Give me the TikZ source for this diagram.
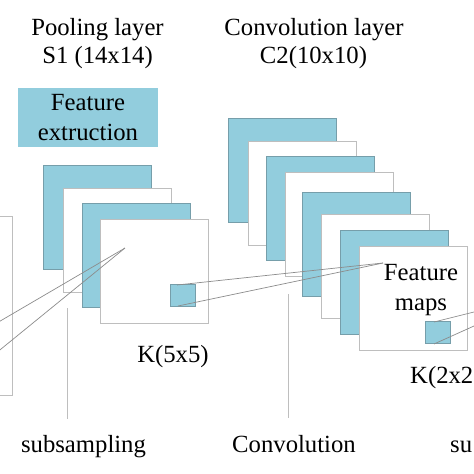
\documentclass[tikz,border=0pt]{standalone}
\usepackage{fontspec}
\setmainfont{Liberation Serif}
\definecolor{fmblue}{RGB}{146,205,221}
\definecolor{fmedge}{RGB}{118,158,170}
\definecolor{whedge}{RGB}{190,190,190}
\definecolor{lngray}{RGB}{140,140,140}
\tikzset{
  lbl/.style={font=\fontsize{24.7}{29.6}\selectfont, inner sep=0pt, anchor=base},
  mapb/.style={draw=fmedge, fill=fmblue, line width=0.9pt, minimum width=108pt, minimum height=104pt, inner sep=0pt, anchor=north west},
  mapw/.style={draw=whedge, fill=white, line width=0.9pt, minimum width=108pt, minimum height=104pt, inner sep=0pt, anchor=north west},
  kern/.style={draw=fmedge, fill=fmblue, line width=0.9pt, minimum width=25pt, minimum height=22pt, inner sep=0pt, anchor=north west},
  conn/.style={draw=lngray, line width=0.7pt},
  vline/.style={draw=whedge, line width=0.9pt}
}
\begin{document}
\begin{tikzpicture}[x=1pt,y=-1pt]
\useasboundingbox (0,0) rectangle (474,474);
\clip (0,0) rectangle (474,474);
\fill[white] (0,0) rectangle (474,474);
% input map (partly outside)
\node[mapw, minimum width=112pt, minimum height=179pt] (inp) at (-100,216) {};
% titles
\node[lbl] (t1a) at (97.5,35) {Pooling layer};
\node[lbl] (t1b) at (97.5,63) {S1 (14x14)};
\node[lbl] (t2a) at (314,35) {Convolution layer};
\node[lbl] (t2b) at (313.5,63) {C2(10x10)};
% feature extraction box
\node[fill=fmblue, minimum width=140pt, minimum height=59pt, inner sep=0pt] (fe) at (88,117.5) {};
\node[lbl] (fe1) at (88,110) {Feature};
\node[lbl] (fe2) at (88,140) {extruction};
% pooling stack
\node[mapb] (p1) at (43,165) {};
\node[mapw] (p2) at (63,188) {};
\node[mapb] (p3) at (82,203) {};
\node[mapw] (p4) at (100,219) {};
\node[kern] (ps) at (170,284) {};
% convolution stack
\node[mapb] (c1) at (228,118) {};
\node[mapw] (c2) at (248,141) {};
\node[mapb] (c3) at (266,156) {};
\node[mapw] (c4) at (285,172) {};
\node[mapb] (c5) at (302,192) {};
\node[mapw] (c6) at (321,214) {};
\node[mapb] (c7) at (340,230) {};
\node[mapw] (c8) at (359,246) {};
\node[kern] (cs) at (425,321) {};
\node[lbl] (fm1) at (421,280) {Feature};
\node[lbl] (fm2) at (421,310) {maps};
% kernel labels
\node[lbl] (k1) at (173,362) {K(5x5)};
\node[lbl, anchor=base west] (k2) at (410,383) {K(2x2};
% bottom labels
\node[lbl] (b1) at (83.5,452) {subsampling};
\node[lbl] (b2) at (294,452) {Convolution};
\node[lbl, anchor=base west] (b3) at (450,452) {su};
% vertical markers
\coordinate (v1t) at (67,308);
\coordinate (v1b) at (67,419);
\coordinate (v2t) at (288,294);
\coordinate (v2b) at (288,418);
\draw[vline] (v1t) -- (v1b);
\draw[vline] (v2t) -- (v2b);
% connectors
\coordinate (a1) at (-10,327);
\coordinate (a2) at (-10,358);
\coordinate (pa) at (125,248);
\draw[conn] (a1) -- (pa);
\draw[conn] (a2) -- (pa);
\coordinate (s1) at (177,285);
\coordinate (s2) at (178,306);
\coordinate (fa) at (383,263);
\draw[conn] (s1) -- (fa);
\draw[conn] (s2) -- (fa);
\coordinate (q1) at (434,322);
\coordinate (q2) at (434,344);
\coordinate (r1) at (494,307);
\coordinate (r2) at (494,317);
\draw[conn] (q1) -- (r1);
\draw[conn] (q2) -- (r2);
\end{tikzpicture}
\end{document}
